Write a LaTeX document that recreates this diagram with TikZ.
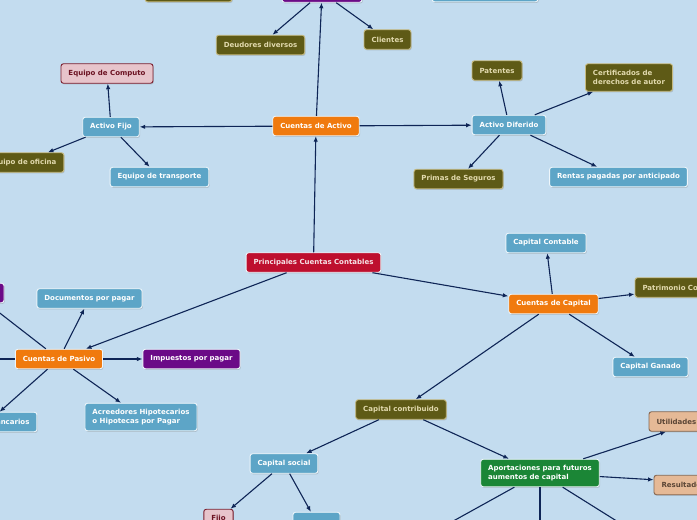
\documentclass[tikz,border=0pt]{standalone}
\usepackage{fontspec}
\setmainfont{DejaVu Sans}
\usetikzlibrary{arrows.meta,shadows}
\definecolor{bg}{HTML}{C3DCEF}
\definecolor{cblue}{HTML}{5DA5C7}
\definecolor{corange}{HTML}{F07A0E}
\definecolor{colive}{HTML}{5E5A16}
\definecolor{coliveb}{HTML}{C6BA80}
\definecolor{colivet}{HTML}{E2DAAE}
\definecolor{ccrimson}{HTML}{BE0F2E}
\definecolor{ccrimsont}{HTML}{F6E3E6}
\definecolor{cpurple}{HTML}{6B0A87}
\definecolor{cgreen}{HTML}{1B8636}
\definecolor{cpink}{HTML}{E7C4CB}
\definecolor{cpinkb}{HTML}{7B1D2D}
\definecolor{cpinkt}{HTML}{6B1222}
\definecolor{ctan}{HTML}{E5B996}
\definecolor{ctanb}{HTML}{85664F}
\definecolor{ctant}{HTML}{5B4636}
\definecolor{cedge}{HTML}{0E2556}
\definecolor{cwb}{HTML}{EEF6FB}
\tikzset{
  box/.style={rounded corners=2.5pt, inner xsep=7.5pt, inner ysep=0pt,
    minimum height=19.5pt, font=\fontsize{7}{9}\selectfont\bfseries,
    line width=0.9pt, align=left,
    drop shadow={shadow xshift=0.8pt, shadow yshift=-1.2pt, opacity=0.25, fill=black!60}},
  tall/.style={minimum height=27.5pt},
  bluebox/.style={box, fill=cblue, draw=cwb, text=white},
  orangebox/.style={box, fill=corange, draw=cwb, text=white},
  olivebox/.style={box, fill=colive, draw=coliveb, text=colivet},
  crimsonbox/.style={box, fill=ccrimson, draw=cwb, text=ccrimsont},
  purplebox/.style={box, fill=cpurple, draw=cwb, text=white},
  greenbox/.style={box, fill=cgreen, draw=cwb, text=white},
  pinkbox/.style={box, fill=cpink, draw=cpinkb, text=cpinkt},
  tanbox/.style={box, fill=ctan, draw=ctanb, text=ctant},
  arr/.style={draw=cedge, line width=1.1pt, -{Latex[length=5.5pt,width=4.5pt]}}
}
\begin{document}
\begin{tikzpicture}[x=1pt,y=-1pt]
\useasboundingbox (0,0) rectangle (697,520);
\fill[bg] (0,0) rectangle (697,520);
\begin{scope}
\clip (0,0) rectangle (697,520);
% main
\node[crimsonbox] (main) at (313.5,262.5) {Principales Cuentas Contables};
\node[orangebox] (activo) at (316,126) {Cuentas de Activo};
\node[orangebox] (pasivo) at (59,359) {Cuentas de Pasivo};
\node[orangebox] (capital) at (553.5,304) {Cuentas de Capital};
% top partial
\node[purplebox, minimum width=80pt] (ptop) at (322,-7.5) {};
\node[olivebox, minimum width=87pt] (ttop) at (188.5,-8) {};
\node[bluebox, minimum width=106pt] (btop) at (485,-8) {};
\node[olivebox] (deud) at (260.5,45) {Deudores diversos};
\node[olivebox] (clientes) at (387.5,39.5) {Clientes};
% activo fijo
\node[bluebox] (fijo) at (111,127) {Activo Fijo};
\node[pinkbox] (comp) at (107,73.5) {Equipo de Computo};
\node[olivebox] (ofic) at (22.5,162.5) {Equipo de oficina};
\node[bluebox] (transp) at (159.5,177) {Equipo de transporte};
% activo diferido
\node[bluebox] (dif) at (509,125) {Activo Diferido};
\node[olivebox] (pat) at (497,70.5) {Patentes};
\node[olivebox, tall] (cert) at (629,77.5) {Certificados de\\derechos de autor};
\node[olivebox] (primas) at (458.5,179) {Primas de Seguros};
\node[bluebox] (rentas) at (618.5,177) {Rentas pagadas por anticipado};
% pasivo
\node[bluebox] (docs) at (89.5,298.5) {Documentos por pagar};
\node[purplebox] (imp) at (191.5,359) {Impuestos por pagar};
\node[bluebox, tall] (acre) at (141,417) {Acreedores Hipotecarios\\o Hipotecas por Pagar};
\node[bluebox] (banc) at (-11.9,422) {Préstamos bancarios};
\node[purplebox, minimum width=60pt] (pleft) at (-26,293) {};
\coordinate (pl) at (-20,359);
% capital
\node[bluebox] (ccont) at (546,243) {Capital Contable};
\node[olivebox, text width=93pt] (patr) at (689,287.5) {Patrimonio Contable};
\node[bluebox] (ganado) at (650.5,367) {Capital Ganado};
\node[olivebox] (contrib) at (401,409.5) {Capital contribuido};
\node[bluebox] (social) at (284,463.5) {Capital social};
\node[greenbox, tall] (aport) at (540,473) {Aportaciones para futuros\\aumentos de capital};
\node[tanbox, text width=81pt] (util) at (697,421.5) {Utilidades};
\node[tanbox, text width=161pt] (res) at (742,485) {Resultados};
\node[pinkbox] (ffijo) at (218.5,519) {Fijo};
\node[bluebox, minimum width=47pt] (bbot) at (316.5,522) {};
\coordinate (ap1) at (419,540);
\coordinate (ap2) at (540,540);
\coordinate (ap3) at (647,540);
% edges
\draw[arr] (main) -- (activo);
\draw[arr] (main) -- (pasivo);
\draw[arr] (main) -- (capital);
\draw[arr] (activo) -- (ptop);
\draw[arr] (ptop) -- (deud);
\draw[arr] (ptop) -- (clientes);
\draw[arr] (activo) -- (fijo);
\draw[arr] (activo) -- (dif);
\draw[arr] (fijo) -- (comp);
\draw[arr] (fijo) -- (ofic);
\draw[arr] (fijo) -- (transp);
\draw[arr] (dif) -- (pat);
\draw[arr] (dif) -- (cert);
\draw[arr] (dif) -- (primas);
\draw[arr] (dif) -- (rentas);
\draw[arr] (pasivo) -- (docs);
\draw[arr] (pasivo) -- (imp);
\draw[arr] (pasivo) -- (banc);
\draw[arr] (pasivo) -- (acre);
\draw[arr] (pasivo) -- (pleft);
\draw[arr] (pasivo) -- (pl);
\draw[arr] (capital) -- (ccont);
\draw[arr] (capital) -- (patr);
\draw[arr] (capital) -- (ganado);
\draw[arr] (capital) -- (contrib);
\draw[arr] (contrib) -- (social);
\draw[arr] (contrib) -- (aport);
\draw[arr] (social) -- (ffijo);
\draw[arr] (social) -- (bbot);
\draw[arr] (aport) -- (util);
\draw[arr] (aport) -- (res);
\draw[arr] (aport) -- (ap1);
\draw[arr] (aport) -- (ap2);
\draw[arr] (aport) -- (ap3);
\end{scope}
\end{tikzpicture}
\end{document}
